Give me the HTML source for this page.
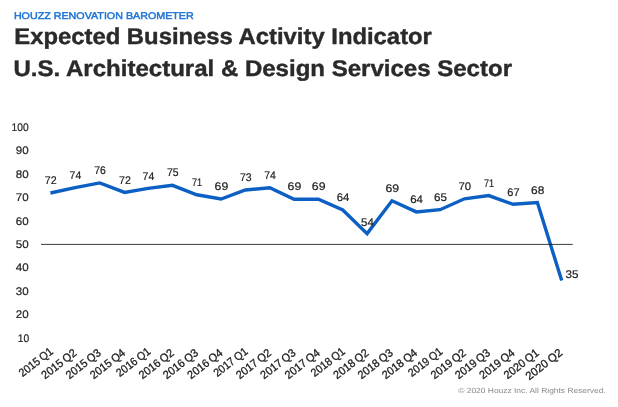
<!DOCTYPE html>
<html><head><meta charset="utf-8"><style>
html,body{margin:0;padding:0;background:#fff;}
body{width:618px;height:407px;overflow:hidden;position:relative;font-family:"Liberation Sans",sans-serif;}
svg{position:absolute;left:0;top:0;will-change:transform;text-rendering:geometricPrecision;}
text{font-family:"Liberation Sans",sans-serif;}
</style></head><body>
<svg width="618" height="407" viewBox="0 0 618 407">
<text x="13.9" y="18.8" font-size="9.7" fill="#1a73d6" stroke="#1a73d6" stroke-width="0.45" textLength="179.8" lengthAdjust="spacingAndGlyphs">HOUZZ RENOVATION BAROMETER</text>
<text x="14.3" y="44.2" font-size="22.7" font-weight="bold" fill="#2a2a2a" stroke="#2a2a2a" stroke-width="0.4" textLength="417.6" lengthAdjust="spacingAndGlyphs">Expected Business Activity Indicator</text>
<text x="13.5" y="75.5" font-size="22.7" font-weight="bold" fill="#2a2a2a" stroke="#2a2a2a" stroke-width="0.4" textLength="498.5" lengthAdjust="spacingAndGlyphs">U.S. Architectural &amp; Design Services Sector</text>

<text transform="translate(28.6,130.9) scale(0.93,1)" font-size="11" fill="#222" stroke="#222" stroke-width="0.2" text-anchor="end">100</text>
<text transform="translate(28.6,154.3) scale(1.05,1)" font-size="11" fill="#222" stroke="#222" stroke-width="0.2" text-anchor="end">90</text>
<text transform="translate(28.6,177.7) scale(1.05,1)" font-size="11" fill="#222" stroke="#222" stroke-width="0.2" text-anchor="end">80</text>
<text transform="translate(28.6,201.1) scale(1.05,1)" font-size="11" fill="#222" stroke="#222" stroke-width="0.2" text-anchor="end">70</text>
<text transform="translate(28.6,224.5) scale(1.05,1)" font-size="11" fill="#222" stroke="#222" stroke-width="0.2" text-anchor="end">60</text>
<text transform="translate(28.6,247.9) scale(1.05,1)" font-size="11" fill="#222" stroke="#222" stroke-width="0.2" text-anchor="end">50</text>
<text transform="translate(28.6,271.3) scale(1.05,1)" font-size="11" fill="#222" stroke="#222" stroke-width="0.2" text-anchor="end">40</text>
<text transform="translate(28.6,294.7) scale(1.05,1)" font-size="11" fill="#222" stroke="#222" stroke-width="0.2" text-anchor="end">30</text>
<text transform="translate(28.6,318.1) scale(1.05,1)" font-size="11" fill="#222" stroke="#222" stroke-width="0.2" text-anchor="end">20</text>
<text transform="translate(29.2,341.5) scale(0.93,1)" font-size="11" fill="#222" stroke="#222" stroke-width="0.2" text-anchor="end">10</text>
<polyline points="50.4,193.0 75.1,187.7 99.8,182.9 124.6,192.4 148.1,188.4 172.4,185.3 196.8,194.8 221.1,199.0 245.4,190.0 269.8,187.7 294.1,199.2 318.4,199.2 342.8,210.0 367.1,233.6 392.0,200.8 416.3,211.9 440.1,209.7 464.4,198.8 488.7,195.6 513.1,204.3 537.4,202.6 561.7,280.6" fill="none" stroke="#0c5fc3" stroke-width="3.4" stroke-linejoin="miter" stroke-linecap="butt"/>
<line x1="41" y1="244.4" x2="572.8" y2="244.4" stroke="#1a1a1a" stroke-width="0.85"/>
<text transform="translate(50.7,184.1) scale(0.965,1)" font-size="11" fill="#222" stroke="#222" stroke-width="0.2" text-anchor="middle">72</text>
<text transform="translate(75.4,178.8) scale(0.95,1)" font-size="11" fill="#222" stroke="#222" stroke-width="0.2" text-anchor="middle">74</text>
<text transform="translate(100.1,174.0) scale(0.95,1)" font-size="11" fill="#222" stroke="#222" stroke-width="0.2" text-anchor="middle">76</text>
<text transform="translate(124.9,183.5) scale(0.965,1)" font-size="11" fill="#222" stroke="#222" stroke-width="0.2" text-anchor="middle">72</text>
<text transform="translate(148.4,179.5) scale(0.95,1)" font-size="11" fill="#222" stroke="#222" stroke-width="0.2" text-anchor="middle">74</text>
<text transform="translate(172.8,176.4) scale(0.95,1)" font-size="11" fill="#222" stroke="#222" stroke-width="0.2" text-anchor="middle">75</text>
<text transform="translate(197.1,185.9) scale(0.82,1)" font-size="11" fill="#222" stroke="#222" stroke-width="0.2" text-anchor="middle">71</text>
<text transform="translate(221.4,190.1) scale(1.12,1)" font-size="11" fill="#222" stroke="#222" stroke-width="0.2" text-anchor="middle">69</text>
<text transform="translate(245.7,181.1) scale(0.95,1)" font-size="11" fill="#222" stroke="#222" stroke-width="0.2" text-anchor="middle">73</text>
<text transform="translate(270.1,178.8) scale(0.95,1)" font-size="11" fill="#222" stroke="#222" stroke-width="0.2" text-anchor="middle">74</text>
<text transform="translate(294.4,190.3) scale(1.12,1)" font-size="11" fill="#222" stroke="#222" stroke-width="0.2" text-anchor="middle">69</text>
<text transform="translate(318.7,190.3) scale(1.12,1)" font-size="11" fill="#222" stroke="#222" stroke-width="0.2" text-anchor="middle">69</text>
<text transform="translate(343.1,201.1) scale(1.04,1)" font-size="11" fill="#222" stroke="#222" stroke-width="0.2" text-anchor="middle">64</text>
<text transform="translate(367.4,225.5) scale(1.04,1)" font-size="11" fill="#222" stroke="#222" stroke-width="0.2" text-anchor="middle">54</text>
<text transform="translate(392.3,191.9) scale(1.12,1)" font-size="11" fill="#222" stroke="#222" stroke-width="0.2" text-anchor="middle">69</text>
<text transform="translate(416.6,203.0) scale(1.04,1)" font-size="11" fill="#222" stroke="#222" stroke-width="0.2" text-anchor="middle">64</text>
<text transform="translate(440.4,200.8) scale(1.06,1)" font-size="11" fill="#222" stroke="#222" stroke-width="0.2" text-anchor="middle">65</text>
<text transform="translate(464.7,189.9) scale(1.03,1)" font-size="11" fill="#222" stroke="#222" stroke-width="0.2" text-anchor="middle">70</text>
<text transform="translate(489.0,186.7) scale(0.82,1)" font-size="11" fill="#222" stroke="#222" stroke-width="0.2" text-anchor="middle">71</text>
<text transform="translate(513.4,196.2) scale(1.0,1)" font-size="11" fill="#222" stroke="#222" stroke-width="0.2" text-anchor="middle">67</text>
<text transform="translate(537.7,193.7) scale(1.08,1)" font-size="11" fill="#222" stroke="#222" stroke-width="0.2" text-anchor="middle">68</text>
<text transform="translate(565.4,277.8) scale(1.06,1)" font-size="11" fill="#222" stroke="#222" stroke-width="0.2" text-anchor="start">35</text>
<text transform="translate(54.0,352.8) rotate(-38) scale(0.93,1)" font-size="11.4" fill="#222" stroke="#222" stroke-width="0.3" text-anchor="end" word-spacing="-0.8">2015 Q1</text>
<text transform="translate(77.4,354.2) rotate(-38) scale(0.955,1)" font-size="11.4" fill="#222" stroke="#222" stroke-width="0.3" text-anchor="end" word-spacing="-0.8">2015 Q2</text>
<text transform="translate(101.8,354.2) rotate(-38) scale(0.955,1)" font-size="11.4" fill="#222" stroke="#222" stroke-width="0.3" text-anchor="end" word-spacing="-0.8">2015 Q3</text>
<text transform="translate(126.1,354.2) rotate(-38) scale(0.955,1)" font-size="11.4" fill="#222" stroke="#222" stroke-width="0.3" text-anchor="end" word-spacing="-0.8">2015 Q4</text>
<text transform="translate(151.3,352.8) rotate(-38) scale(0.93,1)" font-size="11.4" fill="#222" stroke="#222" stroke-width="0.3" text-anchor="end" word-spacing="-0.8">2016 Q1</text>
<text transform="translate(174.7,354.2) rotate(-38) scale(0.955,1)" font-size="11.4" fill="#222" stroke="#222" stroke-width="0.3" text-anchor="end" word-spacing="-0.8">2016 Q2</text>
<text transform="translate(199.1,354.2) rotate(-38) scale(0.955,1)" font-size="11.4" fill="#222" stroke="#222" stroke-width="0.3" text-anchor="end" word-spacing="-0.8">2016 Q3</text>
<text transform="translate(223.4,354.2) rotate(-38) scale(0.955,1)" font-size="11.4" fill="#222" stroke="#222" stroke-width="0.3" text-anchor="end" word-spacing="-0.8">2016 Q4</text>
<text transform="translate(248.6,352.8) rotate(-38) scale(0.93,1)" font-size="11.4" fill="#222" stroke="#222" stroke-width="0.3" text-anchor="end" word-spacing="-0.8">2017 Q1</text>
<text transform="translate(272.1,354.2) rotate(-38) scale(0.955,1)" font-size="11.4" fill="#222" stroke="#222" stroke-width="0.3" text-anchor="end" word-spacing="-0.8">2017 Q2</text>
<text transform="translate(296.4,354.2) rotate(-38) scale(0.955,1)" font-size="11.4" fill="#222" stroke="#222" stroke-width="0.3" text-anchor="end" word-spacing="-0.8">2017 Q3</text>
<text transform="translate(320.7,354.2) rotate(-38) scale(0.955,1)" font-size="11.4" fill="#222" stroke="#222" stroke-width="0.3" text-anchor="end" word-spacing="-0.8">2017 Q4</text>
<text transform="translate(346.0,352.8) rotate(-38) scale(0.93,1)" font-size="11.4" fill="#222" stroke="#222" stroke-width="0.3" text-anchor="end" word-spacing="-0.8">2018 Q1</text>
<text transform="translate(369.4,354.2) rotate(-38) scale(0.955,1)" font-size="11.4" fill="#222" stroke="#222" stroke-width="0.3" text-anchor="end" word-spacing="-0.8">2018 Q2</text>
<text transform="translate(393.7,354.2) rotate(-38) scale(0.955,1)" font-size="11.4" fill="#222" stroke="#222" stroke-width="0.3" text-anchor="end" word-spacing="-0.8">2018 Q3</text>
<text transform="translate(418.1,354.2) rotate(-38) scale(0.955,1)" font-size="11.4" fill="#222" stroke="#222" stroke-width="0.3" text-anchor="end" word-spacing="-0.8">2018 Q4</text>
<text transform="translate(443.3,352.8) rotate(-38) scale(0.93,1)" font-size="11.4" fill="#222" stroke="#222" stroke-width="0.3" text-anchor="end" word-spacing="-0.8">2019 Q1</text>
<text transform="translate(466.7,354.2) rotate(-38) scale(0.955,1)" font-size="11.4" fill="#222" stroke="#222" stroke-width="0.3" text-anchor="end" word-spacing="-0.8">2019 Q2</text>
<text transform="translate(491.0,354.2) rotate(-38) scale(0.955,1)" font-size="11.4" fill="#222" stroke="#222" stroke-width="0.3" text-anchor="end" word-spacing="-0.8">2019 Q3</text>
<text transform="translate(515.4,354.2) rotate(-38) scale(0.955,1)" font-size="11.4" fill="#222" stroke="#222" stroke-width="0.3" text-anchor="end" word-spacing="-0.8">2019 Q4</text>
<text transform="translate(539.7,354.2) rotate(-38) scale(0.955,1)" font-size="11.4" fill="#222" stroke="#222" stroke-width="0.3" text-anchor="end" word-spacing="-0.8">2020 Q1</text>
<text transform="translate(563.3,354.0) rotate(-38) scale(1.005,1)" font-size="11.4" fill="#222" stroke="#222" stroke-width="0.3" text-anchor="end" word-spacing="-0.8">2020 Q2</text>
<text x="458.2" y="393.3" font-size="7.4" fill="#8a8a8a" textLength="147.6" lengthAdjust="spacingAndGlyphs">© 2020 Houzz Inc. All Rights Reserved.</text>
</svg></body></html>
